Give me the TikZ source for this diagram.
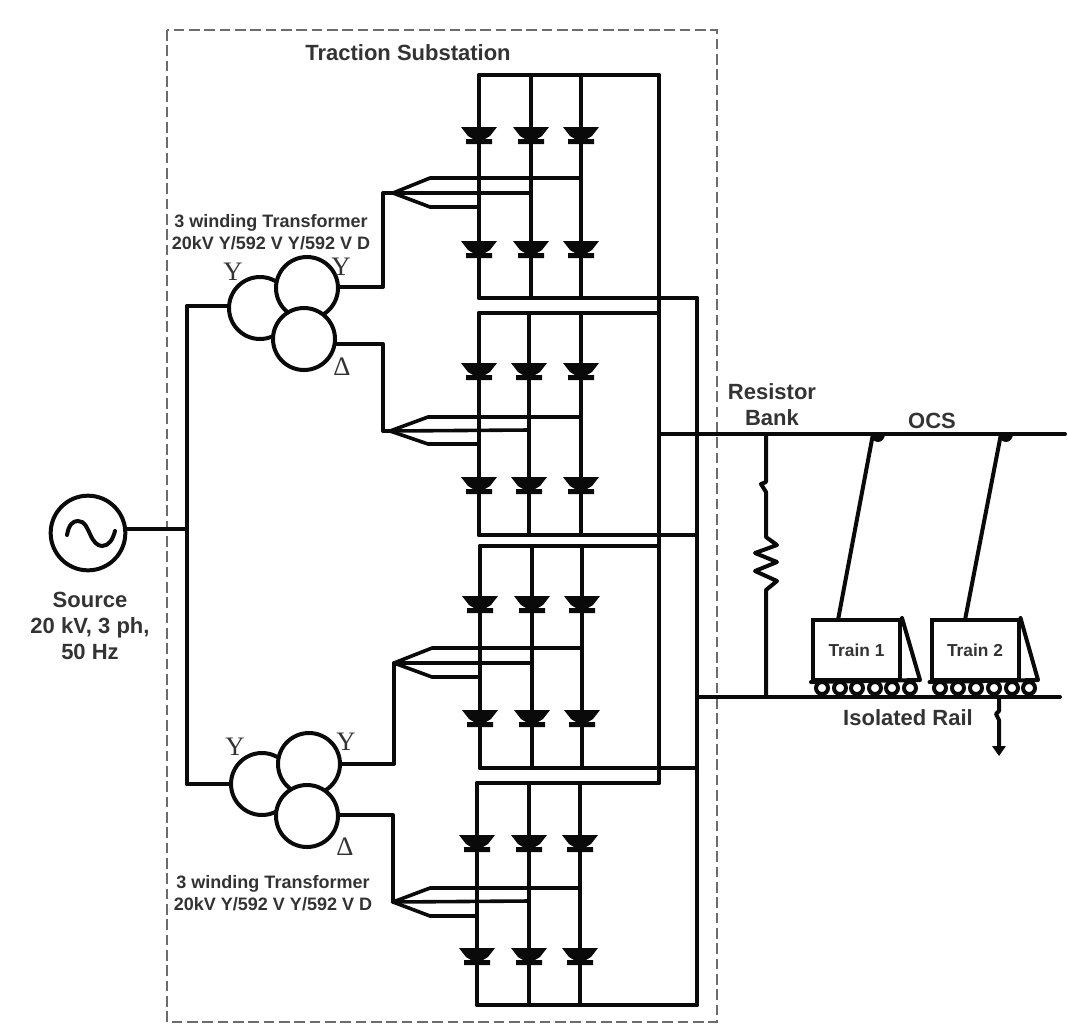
\documentclass[tikz,border=0pt]{standalone}
\usepackage{fontspec}
\setmainfont{Liberation Sans}
\newfontfamily\serifY{Liberation Serif}
\definecolor{ink}{HTML}{0A0A0A}
\definecolor{txt}{HTML}{333333}
\tikzset{
  wire/.style={line width=3pt,draw=ink,line cap=round,line join=round},
  thinwire/.style={line width=2.7pt,draw=ink,line cap=round,line join=round},
  coil/.style={circle,draw=ink,line width=3pt,fill=white,minimum size=46.5pt,inner sep=0pt},
  lbl/.style={font=\fontsize{16.5pt}{19.5pt}\selectfont\bfseries,text=txt,align=center,inner sep=0pt},
  lblsmall/.style={font=\fontsize{13.5pt}{16.5pt}\selectfont\bfseries,text=txt,align=center,inner sep=0pt},
  symb/.style={font=\fontsize{20pt}{20pt}\serifY,text=txt,inner sep=0pt},
  pics/diode/.style={code={
    \fill[ink] (-18,-1) -- (18,-1) -- (11,8) -- (6,11) -- (13,11) -- (13,16) -- (-13,16) -- (-13,11) -- (-6,11) -- (-11,8) -- cycle;
  }},
  wheel/.style={circle,draw=ink,line width=3pt,fill=white,minimum size=9pt,inner sep=0pt},
}
\begin{document}
\begin{tikzpicture}[x=0.75pt,y=-0.75pt]
\useasboundingbox (0,0) rectangle (1068,1026);
% substation frame
\draw[gray!85!black,line width=1.3pt,dash pattern=on 8pt off 3.5pt] (167,30) rectangle (717,1022);
\node[lbl] (title) at (408,53) {Traction Substation};
% rectifier modules: name/left/col2/col3/top/bottom/d1/d2/p1/p2/p3/apexx/apexy/bendx
\foreach \n/\a/\b/\c/\t/\u/\da/\db/\pa/\pb/\pc/\ax/\ay/\bx in {
  A/479/531/581/75/298/128/242/178/193/207/393/193/430,
  B/479/529/581/313/535/364/478/417/430/444/390/431/428,
  C/480/532/582/546/768/597/711/648/663/677/394/663/432,
  D/477/529/580/783/1005/836/949/888/901/916/393/902/430}{
  \coordinate (\n tl) at (\a,\t);
  \coordinate (\n tm) at (\b,\t);
  \coordinate (\n tr) at (\c,\t);
  \coordinate (\n bl) at (\a,\u);
  \coordinate (\n bm) at (\b,\u);
  \coordinate (\n br) at (\c,\u);
  \coordinate (\n apex) at (\ax,\ay);
  \draw[wire] (\n tl) -- (\n bl);
  \draw[wire] (\n tm) -- (\n bm);
  \draw[wire] (\n tr) -- (\n br);
  \draw[wire] (\n tl) -- (659,\t);
  \draw[wire] (\n bl) -- (697,\u);
  \draw[thinwire] (\n apex) -- (\bx,\pa) -- (\c,\pa);
  \draw[thinwire] (\n apex) -- (\b,\pb);
  \draw[thinwire] (\n apex) -- (\bx,\pc) -- (\a,\pc);
  \foreach \k in {\a,\b,\c}{
    \pic at (\k,\da) {diode};
    \pic at (\k,\db) {diode};
  }
}
% DC buses
\coordinate (posTop) at (659,75);
\coordinate (posBot) at (659,783);
\coordinate (negTop) at (697,298);
\coordinate (negBot) at (697,1005);
\draw[wire] (posTop) -- (posBot);
\draw[wire] (negTop) -- (negBot);
% source
\node[circle,draw=ink,line width=3pt,minimum size=56pt,inner sep=0pt] (src) at (88,533) {};
\draw[wire] (67,535) .. controls (69,524) and (73,521) .. (78,521) .. controls (85,521) and (87,528) .. (90,534) .. controls (93,541) and (97,546) .. (102,546) .. controls (109,546) and (113,539) .. (115,531);
\coordinate (acTop) at (187,306);
\coordinate (acBot) at (187,784);
\coordinate (acMid) at (187,529);
\draw[wire] (src.east |- acMid) -- (acMid);
\draw[wire] (acTop) -- (acBot);
% transformers
\node[coil] (t1p) at (260,308) {};
\node[coil] (t1y) at (307,288) {};
\node[coil] (t1d) at (304,339) {};
\node[coil] (t2p) at (262,784) {};
\node[coil] (t2y) at (309,764) {};
\node[coil] (t2d) at (307,816) {};
\draw[wire] (acTop) -- (t1p.west |- acTop);
\draw[wire] (acBot) -- (t2p.west);
\draw[wire] (t1y.east |- 0,287) -- (383,287) -- (383,193) -- (Aapex);
\draw[wire] (t1d.east |- 0,344) -- (383,344) -- (383,431) -- (Bapex);
\draw[wire] (t2y.east) -- (394,764) -- (Capex);
\draw[wire] (t2d.east |- 0,815) -- (393,815) -- (Dapex);
\node[symb] (y1) at (233,272) {Y};
\node[symb] (y2) at (341,267) {Y};
\node[symb] (d1) at (342,367) {Δ};
\node[symb] (y3) at (235,747) {Y};
\node[symb] (y4) at (346,742) {Y};
\node[symb] (d2) at (345,847) {Δ};
\node[lblsmall] (tl1) at (271,232) {3 winding Transformer\\20kV Y/592 V Y/592 V D};
\node[lblsmall] (tl2) at (273,893) {3 winding Transformer\\20kV Y/592 V Y/592 V D};
\node[lbl] (srcl) at (90,626) {Source\\20 kV, 3 ph,\\50 Hz};
% OCS and rail
\coordinate (ocsL) at (659,434);
\coordinate (ocsR) at (1065,434);
\coordinate (railL) at (697,697);
\coordinate (railR) at (1060,697);
\draw[wire] (ocsL) -- (ocsR);
\draw[wire] (railL) -- (railR);
\node[lbl] (rb) at (772,405) {Resistor\\Bank};
\node[lbl] (ocs) at (932,421) {OCS};
\node[lbl] (ir) at (908,718) {Isolated Rail};
% resistor bank
\coordinate (rbT) at (766,434);
\coordinate (rbB) at (766,697);
\draw[wire] (rbT) -- (766,482) -- (761,484) -- (766,492) -- (766,537) -- (777,545) -- (755,553) -- (777,562) -- (755,571) -- (777,581) -- (766,590) -- (rbB);
% trains
\foreach \n/\l/\r/\tip/\lab/\px/\dx in {1/813/900/920/Train 1/838/878,2/932/1018/1038/Train 2/965/1006}{
  \node[draw=ink,line width=3pt,minimum width=65.25pt,minimum height=45pt,inner sep=0pt,font=\fontsize{13pt}{15pt}\selectfont\bfseries,text=txt] (tr\n) at ({(\l+\r)/2},650) {\lab};
  \draw[wire] (tr\n.north east) -- (\tip,680) -- (tr\n.south west);
  \coordinate (pan\n) at (\px,620);
  \coordinate (shoe\n) at (\dx,431);
  \fill[ink] (\dx-7,434) arc[start angle=180,end angle=0,x radius=7,y radius=8] -- cycle;
  \draw[wire] (pan\n) -- ({\dx-5},434);
}
\foreach \w in {822,840,857,875,892,910,940,958,976,994,1012,1029}{
  \node[wheel] at (\w,688) {};
}
% ground
\coordinate (gT) at (999,697);
\coordinate (gB) at (999,748);
\draw[wire] (gT) -- (999,711) -- (996,714) -- (999,720) -- (gB);
\fill[ink] (992,746) -- (1006,746) -- (999,756) -- cycle;
\end{tikzpicture}
\end{document}
